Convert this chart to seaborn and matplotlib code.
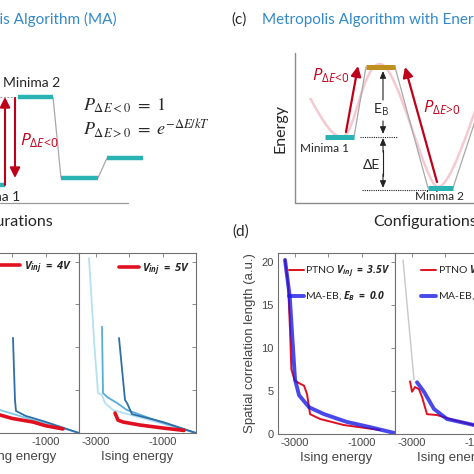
import numpy as np
import pandas as pd
import seaborn as sns
import matplotlib
matplotlib.use("Agg")
import matplotlib.pyplot as plt
from matplotlib.path import Path
from matplotlib.patches import PathPatch

# ---------------- data ----------------
xlim_ising = (-3500, 0)
ylim_corr = (0, 21)
xticks_ising = [-3000, -2000, -1000]
xticklabels_ising = ['-3000', '', '-1000']
yticks_corr = [0, 5, 10, 15, 20]

# bottom-left, V_inj = 4V sub-panel (only its right part is in view)
v4_red_x = [-2600, -2363, -2000, -1376, -1000, -480]
v4_red_y = [2.4, 2.1, 1.7, 1.28, 0.85, 0.47]
v4_light_x = [-2600, -2363, -1376, -700, 0]
v4_light_y = [3.0, 2.68, 1.52, 0.8, 0.0]
v4_dark_x = [-1975, -1915, -1885, -1600, -1000, -500, 0]
v4_dark_y = [11.1, 3.85, 2.57, 2.0, 1.3, 0.65, 0.0]

# bottom-left, V_inj = 5V sub-panel
v5_light_x = [-3201, -3051, -2932, -2812, -2722, -2483, -1376, 0]
v5_light_y = [20.4, 10.85, 4.67, 4.43, 3.5, 2.68, 1.5, 0.0]
v5_mid_x = [-2812, -2782, -2662, -2363, -2064, -1077, 0]
v5_mid_y = [12.4, 4.67, 4.2, 3.5, 2.68, 1.3, 0.0]
v5_dark_x = [-2303, -2124, -2064, -1915, -987, 0]
v5_dark_y = [11.08, 3.85, 3.5, 2.2, 1.28, 0.0]
v5_red_x = [-2423, -2333, -2184, -1676, -987, -359]
v5_red_y = [2.33, 1.5, 1.28, 0.93, 0.58, 0.3]

# (d) left: PTNO V_inj = 3.5V vs MA-EB, E_B = 0.0
d1_ptno_x = [-3290, -3200, -3140, -3100, -3000, -2870, -2720, -2630, -2540, -2240, -1530, -450]
d1_ptno_y = [20.2, 17.5, 12.0, 7.5, 6.2, 5.9, 5.6, 4.6, 2.3, 1.74, 1.04, 0.46]
d1_maeb_x = [-3290, -3150, -3060, -2990, -2870, -2570, -2120, -1440, -750, 0]
d1_maeb_y = [20.2, 16.0, 10.5, 6.3, 4.5, 3.1, 2.3, 1.4, 0.8, 0.1]

# (d) right sub-panel (cut at the image edge)
d2_gray_x = [-3261, -2932]
d2_gray_y = [20.2, 6.3]
d2_ptno_x = [-3051, -2991, -2902, -2782, -2692, -2543, -2243, -1735, -1137, -500, -300]
d2_ptno_y = [6.1, 4.9, 5.45, 5.2, 4.3, 2.3, 2.2, 1.6, 1.04, 0.6, 0.5]
d2_maeb_x = [-2842, -2633, -2333, -1944, -1137, -500, 0]
d2_maeb_y = [6.0, 4.9, 2.9, 1.74, 1.04, 0.5, 0.1]

# schematic (b): energy levels of the MA sketch (figure pixel frame)
ma_lvl_x0 = [-6, 18, 61, 107]
ma_lvl_x1 = [5, 53, 98, 143]
ma_lvl_y = [185, 97, 178, 158]
ma_link_x = [[53, 61], [98, 107]]
ma_link_y = [[97, 178], [178, 158]]

# schematic (c): MA-EB sketch levels (minima 1, barrier, minima 2)
eb_lvl_x0 = [325, 366, 428]
eb_lvl_x1 = [354, 395, 453]
eb_lvl_y = [137, 67, 188]
eb_lvl_col = ['#2ab3b3', '#bf9020', '#2ab3b3']
eb_gray_x = [354, 366, 395, 428, 453, 482]
eb_gray_y = [137, 67, 67, 188, 188, 100]
eb_well_pts = [(310, 98), (325, 125), (333, 137), (342, 137),
               (355, 137), (362, 64), (380, 64),
               (398, 64), (425, 187), (438, 187),
               (450, 187), (468, 130), (482, 92)]

# ---------------- style ----------------
sns.set_theme(style="white")
plt.rcParams['font.family'] = ['Liberation Sans', 'DejaVu Sans']
plt.rcParams['mathtext.fontset'] = 'custom'
plt.rcParams['mathtext.rm'] = 'Open Sans'
plt.rcParams['mathtext.it'] = 'Open Sans:italic'
plt.rcParams['mathtext.bf'] = 'Open Sans:italic:bold'

W, H = 474, 474
fig = plt.figure(figsize=(4.74, 4.74), dpi=100)
CAL = ['Lato', 'DejaVu Sans']
TITLE_BLUE = '#3389c9'
TEAL = '#2ab3b3'
DRED = '#c0001a'
RED = '#e01020'


def px_rect(x0, y0, x1, y1):
    return [x0 / W, 1 - y1 / H, (x1 - x0) / W, (y1 - y0) / H]


def style_axes(ax, ylabels):
    ax.set_xlim(*xlim_ising)
    ax.set_ylim(*ylim_corr)
    ax.set_xticks(xticks_ising)
    ax.set_xticklabels(xticklabels_ising)
    ax.set_yticks(yticks_corr)
    if not ylabels:
        ax.set_yticklabels([])
    ax.tick_params(direction='in', top=True, right=True, length=3, width=0.6,
                   color='#777777', labelcolor='#454545', labelsize=8, pad=3)
    for s in ax.spines.values():
        s.set_color('#707070')
        s.set_linewidth(0.8)
    ax.set_xlabel('Ising energy', fontsize=9.5, color='#454545', labelpad=3)
    ax.set_ylabel('')


def line(ax, x, y, color, lw, label=None, alpha=1.0):
    sns.lineplot(x=x, y=y, ax=ax, color=color, lw=lw, sort=False,
                 estimator=None, label=label, legend=label is not None,
                 alpha=alpha)


# ---------------- bottom-left panels ----------------
a1 = fig.add_axes(px_rect(-38, 253, 79, 433))
line(a1, v4_light_x, v4_light_y, '#7cc8e6', 1.3)
line(a1, v4_dark_x, v4_dark_y, '#2f6fa8', 1.3)
line(a1, v4_red_x, v4_red_y, RED, 2.6, label=r'$\mathbf{V_{inj}\ =\ 4V}$')
style_axes(a1, False)

a2 = fig.add_axes(px_rect(79, 253, 196, 433))
line(a2, v5_light_x, v5_light_y, '#b5e0f2', 1.3)
line(a2, v5_mid_x, v5_mid_y, '#58acd8', 1.3)
line(a2, v5_dark_x, v5_dark_y, '#2f6fa8', 1.3)
line(a2, v5_red_x, v5_red_y, RED, 2.6, label=r'$\mathbf{V_{inj}\ =\ 5V}$')
style_axes(a2, False)

for ax, anchor in ((a1, (0.978, 0.99)), (a2, (0.99, 0.98))):
    ax.legend(loc='upper right', bbox_to_anchor=anchor, borderaxespad=0,
              frameon=False, fontsize=8, handlelength=1.8, handletextpad=0.3,
              borderpad=0.4)

# ---------------- (d) panels ----------------
d1 = fig.add_axes(px_rect(278, 253, 395, 434))
line(d1, d1_ptno_x, d1_ptno_y, RED, 1.4, label=r'PTNO $\mathbf{V_{inj}\ =\ 3.5V}$')
line(d1, d1_maeb_x, d1_maeb_y, '#1a1ae6', 2.8, label=r'MA-EB, $\mathbf{E_B\ =\ 0.0}$', alpha=0.8)
style_axes(d1, True)
d1.set_ylabel('Spatial correlation length (a.u.)', fontsize=9.5,
              color='#454545', labelpad=4)
d1.legend(loc='upper right', bbox_to_anchor=(1.015, 0.975), borderaxespad=0,
          frameon=False, prop={'family': CAL, 'size': 7.5}, handlelength=1.45,
          handletextpad=0.15, labelspacing=1.0, borderpad=0.6)

d2 = fig.add_axes(px_rect(395, 253, 512, 434))
line(d2, d2_gray_x, d2_gray_y, '#c8c8c8', 1.0)
line(d2, d2_ptno_x, d2_ptno_y, RED, 1.4, label=r'PTNO $\mathbf{V_{inj}\ =\ 4.0V}$')
line(d2, d2_maeb_x, d2_maeb_y, '#1a1ae6', 2.8, label=r'MA-EB, $\mathbf{E_B\ =\ 0.5}$', alpha=0.8)
style_axes(d2, False)
d2.legend(loc='upper left', bbox_to_anchor=(0.17, 0.975), borderaxespad=0,
          frameon=False, prop={'family': CAL, 'size': 7.5}, handlelength=1.45,
          handletextpad=0.15, labelspacing=1.0, borderpad=0.6)

# ---------------- schematics (overlay in pixel frame) ----------------
ov = fig.add_axes([0, 0, 1, 1])
ov.set_xlim(0, W)
ov.set_ylim(H, 0)
ov.axis('off')


def arrow(x0, y0, x1, y1, color, lw, hl=0.5, hw=0.25):
    ov.annotate('', xy=(x1, y1), xytext=(x0, y0),
                arrowprops=dict(arrowstyle=f'-|>,head_length={hl},head_width={hw}',
                                color=color, lw=lw, shrinkA=0, shrinkB=0))


# (b) Metropolis algorithm
ov.text(117, 19, 'Metropolis Algorithm (MA)', ha='right', va='center',
        color=TITLE_BLUE, fontsize=11, family=CAL)
ov.plot([0, 128], [203, 203], color='#9a9a9a', lw=0.9)
ov.plot([0, 18], [97, 97], color='#999999', lw=0.7, ls=(0, (2, 1.5)))
for xs, ys in zip(ma_link_x, ma_link_y):
    ov.plot(xs, ys, color='#a8a8a8', lw=0.9)
for x0, x1, y in zip(ma_lvl_x0, ma_lvl_x1, ma_lvl_y):
    ov.plot([x0, x1], [y, y], color=TEAL, lw=3.2, solid_capstyle='butt')
arrow(5, 185, 5, 97, DRED, 1.5)
arrow(15, 98, 15, 178, DRED, 1.5)
ov.text(3, 83, 'Minima 2', ha='left', va='center', fontsize=10, family=CAL)
ov.text(20, 197, 'Minima 1', ha='right', va='center', fontsize=10, family=CAL)
ov.text(53, 222, 'Configurations', ha='right', va='center', fontsize=11.5, family=CAL)
ov.text(20, 141, r'$P_{\Delta E\!<\!0}$', ha='left', va='center', color=DRED, fontsize=12.5)
ov.text(83, 106, r'$P_{\Delta E<0}\ =\ 1$', ha='left', va='center',
        fontsize=13, math_fontfamily='stix')
ov.text(83, 129, r'$P_{\Delta E>0}\ =\ e^{-\Delta E/kT}$', ha='left', va='center',
        fontsize=13, math_fontfamily='stix')

# (c) Metropolis algorithm with energy barrier
ov.text(231, 20, '(c)', ha='left', va='center', fontsize=11, family=CAL)
ov.text(262, 19, 'Metropolis Algorithm with Energy Barrier (MA-EB)', ha='left',
        va='center', color=TITLE_BLUE, fontsize=11, family=CAL)
ov.plot([295, 295, 480], [53, 203, 203], color='#8a8a8a', lw=1.0)
ov.text(281, 128, 'Energy', rotation=90, ha='center', va='center',
        fontsize=11.5, family=CAL)
codes = [Path.MOVETO] + [Path.CURVE4] * (len(eb_well_pts) - 1)
ov.add_patch(PathPatch(Path(eb_well_pts, codes), facecolor='none',
                       edgecolor='#f3bcc6', lw=1.8, alpha=0.8))
ov.plot(eb_gray_x[:2], eb_gray_y[:2], color='#a8a8a8', lw=0.9)
ov.plot(eb_gray_x[2:4], eb_gray_y[2:4], color='#a8a8a8', lw=0.9)
ov.plot(eb_gray_x[4:], eb_gray_y[4:], color='#a8a8a8', lw=0.9)
for x0, x1, y, c in zip(eb_lvl_x0, eb_lvl_x1, eb_lvl_y, eb_lvl_col):
    ov.plot([x0, x1], [y, y], color=c, lw=3.6, solid_capstyle='butt')
ov.plot([360, 397], [137, 137], color='#222222', lw=0.8, ls=(0, (1, 1)))
ov.plot([362, 428], [190, 190], color='#222222', lw=0.8, ls=(0, (1, 1)))
arrow(346, 132, 358, 66, DRED, 1.6)
arrow(437, 182, 405, 67, DRED, 1.6)
arrow(383, 100, 383, 71, '#222222', 0.8, 0.35, 0.15)
arrow(383, 121, 383, 134, '#222222', 0.8, 0.35, 0.15)
ov.plot([383, 383], [150, 176], color='#222222', lw=0.8)
arrow(383, 152, 383, 138, '#222222', 0.8, 0.35, 0.15)
arrow(383, 174, 383, 188, '#222222', 0.8, 0.35, 0.15)
ov.text(381, 110, r'E$_\mathrm{B}$', ha='center', va='center', fontsize=10, family=CAL)
ov.text(371, 165, 'ΔE', ha='center', va='center', fontsize=10, family=CAL)
ov.text(312, 76, r'$P_{\Delta E\!<\!0}$', ha='left', va='center', color=DRED, fontsize=12)
ov.text(423, 108, r'$P_{\Delta E\!>\!0}$', ha='left', va='center', color=DRED, fontsize=12)
ov.text(300, 148, 'Minima 1', ha='left', va='center', fontsize=8.5, family=CAL)
ov.text(415, 196, 'Minima 2', ha='left', va='center', fontsize=8.5, family=CAL)
ov.text(373, 222, 'Configurations', ha='left', va='center', fontsize=11.5, family=CAL)

ov.text(232, 232, '(d)', ha='left', va='center', fontsize=11, family=CAL)

fig.savefig('out.png', dpi=100)
